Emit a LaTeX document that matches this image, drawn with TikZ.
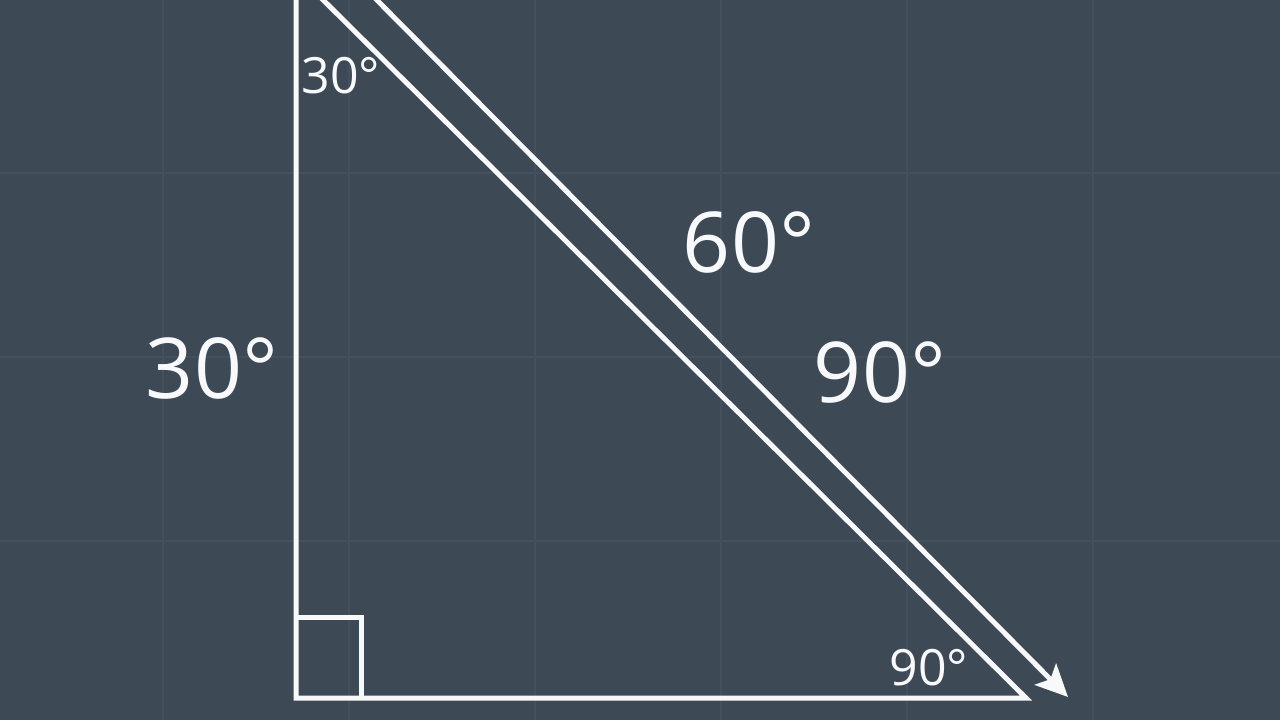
\documentclass[tikz,border=0pt]{standalone}
\usepackage{fontspec}
\setmainfont{Open Sans}
\usepackage{tikz}
\usetikzlibrary{positioning, arrows.meta, calc}
\definecolor{slatebg}{RGB}{62, 73, 86}
\definecolor{gridline}{RGB}{68, 80, 94}
\definecolor{chalk}{RGB}{248, 249, 250}

\begin{document}
\begin{tikzpicture}[
    x=1pt, y=-1pt,
    edge/.style={draw=chalk, line width=5pt, line cap=butt},
    arrow/.style={draw=chalk, line width=5pt, -{Stealth[length=32pt, width=30pt, inset=7pt]}},
    biglabel/.style={text=chalk, inner sep=0pt, font=\fontsize{84}{90}\selectfont},
    smalllabel/.style={text=chalk, inner sep=0pt, font=\fontsize{50}{54}\selectfont}
]

% Background
\fill[slatebg] (0, 0) rectangle (1280, 720);
\useasboundingbox (0, 0) rectangle (1280, 720);

% Faint grid
\foreach \gx in {163, 349, 535, 721, 907, 1093}
    \draw[gridline, line width=1.2pt] (\gx, 0) -- (\gx, 720);
\foreach \gy in {173, 357, 541}
    \draw[gridline, line width=1.2pt] (0, \gy) -- (1280, \gy);

% Triangle corners
\coordinate (tri-top) at (296, -27);
\coordinate (tri-corner) at (296, 698);
\coordinate (tri-right) at (1026, 698);

% Triangle
\draw[edge, line join=miter] (tri-top) -- (tri-corner) -- (tri-right) -- cycle;

% Right angle mark
\coordinate (sq-top) at (296, 617);
\coordinate (sq-right) at (361, 698);
\draw[edge] (sq-top) -| (sq-right);

% Arrow along the hypotenuse
\coordinate (arr-start) at (357, -20);
\coordinate (arr-end) at (1068, 697);
\draw[arrow] (arr-start) -- (arr-end);

% Angle labels
\node[smalllabel] (lbl-top) at (341, 76) {30°};
\node[smalllabel] (lbl-right) at (929, 668) {90°};

% Side labels
\node[biglabel] (lbl-left) at (212, 368) {30°};
\node[biglabel] (lbl-sixty) at (749, 242) {60°};
\node[biglabel] (lbl-ninety) at (880, 372) {90°};

\end{tikzpicture}
\end{document}
